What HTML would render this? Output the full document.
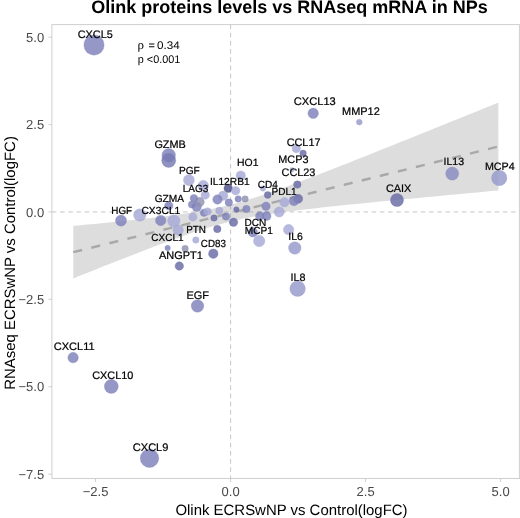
<!DOCTYPE html>
<html><head><meta charset="utf-8"><title>Olink proteins levels vs RNAseq mRNA in NPs</title>
<style>
html,body{margin:0;padding:0;background:#fff}
svg{display:block}
text{font-family:"Liberation Sans",Arial,sans-serif;text-rendering:geometricPrecision}
.tk{font-size:13px;fill:#484848}
.lb{font-size:11px;fill:#000;text-anchor:middle;stroke:#000;stroke-width:0.22px}
.ax{font-size:14.95px;fill:#000}
.an{font-size:11px;fill:#000}
</style></head><body>
<svg width="520" height="518" viewBox="0 0 520 518">
<rect width="520" height="518" fill="#fff"/>
<text x="289.5" y="12.9" text-anchor="middle" style="font-size:18px;font-weight:bold">Olink proteins levels vs RNAseq mRNA in NPs</text>
<rect x="51.9" y="24.6" width="467.5" height="453.9" fill="#fff" stroke="#cfcfcf" stroke-width="1"/>
<line x1="51.9" x2="519.4" y1="211.95" y2="211.95" stroke="#c6c6c6" stroke-width="1" stroke-dasharray="4.5 3.7"/>
<line y1="24.6" y2="478.5" x1="230.6" x2="230.6" stroke="#c6c6c6" stroke-width="1" stroke-dasharray="4.5 3.7"/>

<line x1="95.6" x2="95.6" y1="478.5" y2="482.0" stroke="#cfcfcf" stroke-width="1"/>
<text class="tk" x="95.6" y="496" text-anchor="middle">−2.5</text>
<line x1="230.6" x2="230.6" y1="478.5" y2="482.0" stroke="#cfcfcf" stroke-width="1"/>
<text class="tk" x="230.6" y="496" text-anchor="middle">0.0</text>
<line x1="365.6" x2="365.6" y1="478.5" y2="482.0" stroke="#cfcfcf" stroke-width="1"/>
<text class="tk" x="365.6" y="496" text-anchor="middle">2.5</text>
<line x1="500.6" x2="500.6" y1="478.5" y2="482.0" stroke="#cfcfcf" stroke-width="1"/>
<text class="tk" x="500.6" y="496" text-anchor="middle">5.0</text>
<line x1="48.4" x2="51.9" y1="37.2" y2="37.2" stroke="#cfcfcf" stroke-width="1"/>
<text class="tk" x="44.2" y="41.8" text-anchor="end">5.0</text>
<line x1="48.4" x2="51.9" y1="124.6" y2="124.6" stroke="#cfcfcf" stroke-width="1"/>
<text class="tk" x="44.2" y="129.2" text-anchor="end">2.5</text>
<line x1="48.4" x2="51.9" y1="211.9" y2="211.9" stroke="#cfcfcf" stroke-width="1"/>
<text class="tk" x="44.2" y="216.5" text-anchor="end">0.0</text>
<line x1="48.4" x2="51.9" y1="299.3" y2="299.3" stroke="#cfcfcf" stroke-width="1"/>
<text class="tk" x="44.2" y="303.9" text-anchor="end">−2.5</text>
<line x1="48.4" x2="51.9" y1="386.7" y2="386.7" stroke="#cfcfcf" stroke-width="1"/>
<text class="tk" x="44.2" y="391.3" text-anchor="end">−5.0</text>
<line x1="48.4" x2="51.9" y1="474.1" y2="474.1" stroke="#cfcfcf" stroke-width="1"/>
<text class="tk" x="44.2" y="478.7" text-anchor="end">−7.5</text>
<polygon points="73.3,226.0 80.4,225.3 87.5,224.6 94.6,223.9 101.6,223.2 108.7,222.5 115.8,221.8 122.9,221.0 130.0,220.3 137.1,219.5 144.1,218.7 151.2,217.9 158.3,217.1 165.4,216.2 172.5,215.3 179.6,214.3 186.7,213.3 193.7,212.2 200.8,211.0 207.9,209.7 215.0,208.3 222.1,206.8 229.2,205.1 236.3,203.2 243.3,201.2 250.4,199.1 257.5,196.8 264.6,194.5 271.7,192.0 278.8,189.5 285.8,186.9 292.9,184.3 300.0,181.6 307.1,179.0 314.2,176.2 321.3,173.5 328.4,170.7 335.4,168.0 342.5,165.2 349.6,162.4 356.7,159.6 363.8,156.8 370.9,154.0 378.0,151.1 385.0,148.3 392.1,145.5 399.2,142.6 406.3,139.8 413.4,136.9 420.5,134.1 427.6,131.2 434.6,128.3 441.7,125.5 448.8,122.6 455.9,119.8 463.0,116.9 470.1,114.0 477.1,111.2 484.2,108.3 491.3,105.4 498.4,102.5 498.4,190.5 491.3,191.1 484.2,191.8 477.1,192.4 470.1,193.1 463.0,193.7 455.9,194.4 448.8,195.0 441.7,195.7 434.6,196.4 427.6,197.0 420.5,197.7 413.4,198.4 406.3,199.0 399.2,199.7 392.1,200.4 385.0,201.1 378.0,201.8 370.9,202.5 363.8,203.2 356.7,203.9 349.6,204.6 342.5,205.3 335.4,206.1 328.4,206.8 321.3,207.6 314.2,208.4 307.1,209.2 300.0,210.0 292.9,210.9 285.8,211.8 278.8,212.7 271.7,213.7 264.6,214.8 257.5,216.0 250.4,217.2 243.3,218.6 236.3,220.2 229.2,221.8 222.1,223.7 215.0,225.6 207.9,227.7 200.8,230.0 193.7,232.3 186.7,234.7 179.6,237.2 172.5,239.8 165.4,242.4 158.3,245.1 151.2,247.8 144.1,250.5 137.1,253.2 130.0,256.0 122.9,258.7 115.8,261.5 108.7,264.3 101.6,267.1 94.6,269.9 87.5,272.7 80.4,275.6 73.3,278.4" fill="#999" fill-opacity="0.33"/>
<line x1="73.3" y1="252.2" x2="498.4" y2="146.5" stroke="#a9a9a9" stroke-width="2.4" stroke-dasharray="9.1 9.48"/>
<g fill-opacity="0.82" stroke-opacity="0.35" stroke-width="0.9">
<circle cx="94" cy="45" r="10.15" fill="#7e81b9" stroke="#7e81b9"/>
<circle cx="168.7" cy="155.2" r="6.75" fill="#7e81b9" stroke="#7e81b9"/>
<circle cx="168.7" cy="160.4" r="7.05" fill="#7679b2" stroke="#7679b2"/>
<circle cx="188.9" cy="180.1" r="5.55" fill="#a6aad6" stroke="#a6aad6"/>
<circle cx="203.3" cy="185.7" r="5.35" fill="#a6aad6" stroke="#a6aad6"/>
<circle cx="240.8" cy="175.7" r="4.75" fill="#a6aad6" stroke="#a6aad6"/>
<circle cx="228.2" cy="188.2" r="4.25" fill="#4c4d84" stroke="#4c4d84"/>
<circle cx="121" cy="220.6" r="5.55" fill="#7e81b9" stroke="#7e81b9"/>
<circle cx="139.8" cy="215.1" r="6.25" fill="#a6aad6" stroke="#a6aad6"/>
<circle cx="313.2" cy="113.3" r="5.25" fill="#7e81b9" stroke="#7e81b9"/>
<circle cx="359.3" cy="122.1" r="2.95" fill="#9599ca" stroke="#9599ca"/>
<circle cx="296.3" cy="148.5" r="4.25" fill="#a6aad6" stroke="#a6aad6"/>
<circle cx="303.1" cy="153.2" r="3.25" fill="#686aa5" stroke="#686aa5"/>
<circle cx="292" cy="169.8" r="2.25" fill="#a6aad6" stroke="#a6aad6"/>
<circle cx="297.3" cy="184.6" r="3.75" fill="#686aa5" stroke="#686aa5"/>
<circle cx="452.2" cy="173.6" r="6.55" fill="#888bc0" stroke="#888bc0"/>
<circle cx="499.2" cy="177.9" r="7.75" fill="#9599ca" stroke="#9599ca"/>
<circle cx="397" cy="200" r="6.55" fill="#686aa5" stroke="#686aa5"/>
<circle cx="294.8" cy="248" r="6.25" fill="#9599ca" stroke="#9599ca"/>
<circle cx="288.6" cy="229.6" r="5.25" fill="#a6aad6" stroke="#a6aad6"/>
<circle cx="297.6" cy="288.7" r="7.75" fill="#9599ca" stroke="#9599ca"/>
<circle cx="197.5" cy="306" r="6.25" fill="#7e81b9" stroke="#7e81b9"/>
<circle cx="73.1" cy="357.6" r="5.25" fill="#7e81b9" stroke="#7e81b9"/>
<circle cx="111.3" cy="386.5" r="6.95" fill="#7e81b9" stroke="#7e81b9"/>
<circle cx="149.5" cy="458.3" r="9.25" fill="#7e81b9" stroke="#7e81b9"/>
<circle cx="179.3" cy="266" r="4.25" fill="#686aa5" stroke="#686aa5"/>
<circle cx="213.3" cy="253.7" r="4.75" fill="#686aa5" stroke="#686aa5"/>
<circle cx="167.6" cy="247.9" r="2.75" fill="#7e81b9" stroke="#7e81b9"/>
<circle cx="185.1" cy="248.6" r="3.25" fill="#8f90ae" stroke="#8f90ae"/>
<circle cx="195.8" cy="240.1" r="3.25" fill="#a6aad6" stroke="#a6aad6"/>
<circle cx="259.2" cy="241" r="5.75" fill="#a6aad6" stroke="#a6aad6"/>
<circle cx="252.8" cy="232.3" r="4.75" fill="#7e81b9" stroke="#7e81b9"/>
<circle cx="217.3" cy="229" r="3.75" fill="#686aa5" stroke="#686aa5"/>
<circle cx="233.5" cy="222.2" r="4.25" fill="#686aa5" stroke="#686aa5"/>
<circle cx="214" cy="218" r="3.25" fill="#686aa5" stroke="#686aa5"/>
<circle cx="226" cy="216.6" r="3.75" fill="#7e81b9" stroke="#7e81b9"/>
<circle cx="160.7" cy="220.4" r="5.25" fill="#7e81b9" stroke="#7e81b9"/>
<circle cx="173.8" cy="221" r="6.25" fill="#a6aad6" stroke="#a6aad6"/>
<circle cx="178.2" cy="230" r="5.25" fill="#a6aad6" stroke="#a6aad6"/>
<circle cx="192.9" cy="217" r="4.25" fill="#a6aad6" stroke="#a6aad6"/>
<circle cx="204" cy="212.7" r="3.75" fill="#7e81b9" stroke="#7e81b9"/>
<circle cx="168.8" cy="205.8" r="4.25" fill="#7e81b9" stroke="#7e81b9"/>
<circle cx="196.7" cy="206.8" r="4.75" fill="#7e81b9" stroke="#7e81b9"/>
<circle cx="191.8" cy="204.5" r="3.55" fill="#7e81b9" stroke="#7e81b9"/>
<circle cx="199.6" cy="202" r="4.75" fill="#8f90ae" stroke="#8f90ae"/>
<circle cx="193.9" cy="198.2" r="3.75" fill="#7e81b9" stroke="#7e81b9"/>
<circle cx="205.2" cy="195.1" r="4.25" fill="#a6aad6" stroke="#a6aad6"/>
<circle cx="223.2" cy="195.7" r="4.75" fill="#a6aad6" stroke="#a6aad6"/>
<circle cx="217.5" cy="199.5" r="4.75" fill="#7e81b9" stroke="#7e81b9"/>
<circle cx="228.8" cy="202.6" r="3.75" fill="#7e81b9" stroke="#7e81b9"/>
<circle cx="235.7" cy="190.7" r="4.25" fill="#a6aad6" stroke="#a6aad6"/>
<circle cx="238.2" cy="198.9" r="3.25" fill="#7e81b9" stroke="#7e81b9"/>
<circle cx="245.1" cy="198.9" r="3.25" fill="#8f90ae" stroke="#8f90ae"/>
<circle cx="267.7" cy="195" r="3.45" fill="#686aa5" stroke="#686aa5"/>
<circle cx="263" cy="188.5" r="2.75" fill="#a6aad6" stroke="#a6aad6"/>
<circle cx="266" cy="206.3" r="4.25" fill="#7e81b9" stroke="#7e81b9"/>
<circle cx="246.4" cy="208.9" r="3.75" fill="#7e81b9" stroke="#7e81b9"/>
<circle cx="236.4" cy="209.5" r="2.75" fill="#686aa5" stroke="#686aa5"/>
<circle cx="219.4" cy="210.8" r="3.75" fill="#a6aad6" stroke="#a6aad6"/>
<circle cx="207.5" cy="211.4" r="3.75" fill="#a6aad6" stroke="#a6aad6"/>
<circle cx="266.6" cy="216" r="4.45" fill="#7e81b9" stroke="#7e81b9"/>
<circle cx="259.8" cy="216" r="4.35" fill="#7e81b9" stroke="#7e81b9"/>
<circle cx="298.2" cy="198.8" r="4.55" fill="#686aa5" stroke="#686aa5"/>
<circle cx="294" cy="200.9" r="4.85" fill="#7e81b9" stroke="#7e81b9"/>
<circle cx="284.4" cy="202.3" r="4.75" fill="#a6aad6" stroke="#a6aad6"/>
<circle cx="279.2" cy="211.9" r="5.15" fill="#a6aad6" stroke="#a6aad6"/>
</g>
<text class="lb" x="95.2" y="37.6" style="font-size:10.89px" textLength="35.1" lengthAdjust="spacingAndGlyphs">CXCL5</text>
<text class="lb" x="170.1" y="147.8" style="font-size:10.87px" textLength="31.4" lengthAdjust="spacingAndGlyphs">GZMB</text>
<text class="lb" x="189.4" y="173.9" style="font-size:10.30px" textLength="20.9" lengthAdjust="spacingAndGlyphs">PGF</text>
<text class="lb" x="229.8" y="184.7" style="font-size:10.30px" textLength="39.7" lengthAdjust="spacingAndGlyphs">IL12RB1</text>
<text class="lb" x="195.6" y="192.2" style="font-size:10.30px" textLength="25.6" lengthAdjust="spacingAndGlyphs">LAG3</text>
<text class="lb" x="169.4" y="201.5" style="font-size:10.30px" textLength="29.4" lengthAdjust="spacingAndGlyphs">GZMA</text>
<text class="lb" x="121.7" y="214" style="font-size:10.30px" textLength="20.8" lengthAdjust="spacingAndGlyphs">HGF</text>
<text class="lb" x="160.9" y="214" style="font-size:10.30px" textLength="38.9" lengthAdjust="spacingAndGlyphs">CX3CL1</text>
<text class="lb" x="196.1" y="233" style="font-size:10.30px" textLength="19.8" lengthAdjust="spacingAndGlyphs">PTN</text>
<text class="lb" x="167.4" y="241.2" style="font-size:10.30px" textLength="32.3" lengthAdjust="spacingAndGlyphs">CXCL1</text>
<text class="lb" x="213.4" y="246.6" style="font-size:10.30px" textLength="25.1" lengthAdjust="spacingAndGlyphs">CD83</text>
<text class="lb" x="180.9" y="259.2" style="font-size:10.97px" textLength="43.9" lengthAdjust="spacingAndGlyphs">ANGPT1</text>
<text class="lb" x="247.8" y="166.3" style="font-size:10.41px" textLength="21.4" lengthAdjust="spacingAndGlyphs">HO1</text>
<text class="lb" x="267.8" y="187.7" style="font-size:10.30px" textLength="20.1" lengthAdjust="spacingAndGlyphs">CD4</text>
<text class="lb" x="284.1" y="195.2" style="font-size:10.30px" textLength="25.1" lengthAdjust="spacingAndGlyphs">PDL1</text>
<text class="lb" x="303.6" y="146.3" style="font-size:10.89px" textLength="33.9" lengthAdjust="spacingAndGlyphs">CCL17</text>
<text class="lb" x="293.4" y="162.6" style="font-size:10.84px" textLength="30.1" lengthAdjust="spacingAndGlyphs">MCP3</text>
<text class="lb" x="298.5" y="176.4" style="font-size:10.86px" textLength="33.8" lengthAdjust="spacingAndGlyphs">CCL23</text>
<text class="lb" x="255.5" y="225.9" style="font-size:10.30px" textLength="21.8" lengthAdjust="spacingAndGlyphs">DCN</text>
<text class="lb" x="258.9" y="233.7" style="font-size:10.30px" textLength="28.1" lengthAdjust="spacingAndGlyphs">MCP1</text>
<text class="lb" x="295.6" y="239.9" style="font-size:10.50px" textLength="14.6" lengthAdjust="spacingAndGlyphs">IL6</text>
<text class="lb" x="314.8" y="105" style="font-size:11.09px" textLength="41.9" lengthAdjust="spacingAndGlyphs">CXCL13</text>
<text class="lb" x="360.9" y="114.6" style="font-size:10.94px" textLength="37.7" lengthAdjust="spacingAndGlyphs">MMP12</text>
<text class="lb" x="398.6" y="192.4" style="font-size:10.88px" textLength="25.4" lengthAdjust="spacingAndGlyphs">CAIX</text>
<text class="lb" x="453.8" y="165.3" style="font-size:10.53px" textLength="20.5" lengthAdjust="spacingAndGlyphs">IL13</text>
<text class="lb" x="499.8" y="170.3" style="font-size:10.73px" textLength="29.8" lengthAdjust="spacingAndGlyphs">MCP4</text>
<text class="lb" x="74.2" y="350.1" style="font-size:10.82px" textLength="40.9" lengthAdjust="spacingAndGlyphs">CXCL11</text>
<text class="lb" x="112.8" y="378.9" style="font-size:10.88px" textLength="41.1" lengthAdjust="spacingAndGlyphs">CXCL10</text>
<text class="lb" x="150.6" y="450.5" style="font-size:11.05px" textLength="35.6" lengthAdjust="spacingAndGlyphs">CXCL9</text>
<text class="lb" x="197.8" y="298.5" style="font-size:10.94px" textLength="22.5" lengthAdjust="spacingAndGlyphs">EGF</text>
<text class="lb" x="298.0" y="280.5" style="font-size:10.79px" textLength="15.0" lengthAdjust="spacingAndGlyphs">IL8</text>
<text class="an" x="137.6" y="49.3"><tspan style="font-family:'Liberation Serif','DejaVu Serif',serif;font-size:13px">ρ</tspan><tspan x="148.6">=</tspan><tspan x="157" textLength="22.7" lengthAdjust="spacingAndGlyphs">0.34</tspan></text>
<text class="an" x="137.8" y="62.7" textLength="42.5" lengthAdjust="spacingAndGlyphs">p &lt;0.001</text>
<text class="ax" x="291.5" y="514.5" text-anchor="middle">Olink ECRSwNP vs Control(logFC)</text>
<text class="ax" transform="translate(14.8 263) rotate(-90)" text-anchor="middle">RNAseq ECRSwNP vs Control(logFC)</text>
</svg></body></html>
